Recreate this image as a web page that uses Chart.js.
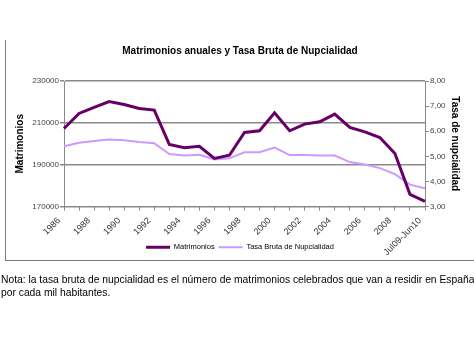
<!DOCTYPE html>
<html>
<head>
<meta charset="utf-8">
<script src="https://cdn.jsdelivr.net/npm/chart.js@4.4.1/dist/chart.umd.min.js"></script>
<style>
  html, body { margin: 0; padding: 0; background: #fff; }
  body { width: 474px; height: 355px; position: relative; overflow: hidden; font-family: "Liberation Sans", Arial, sans-serif; }
  #wrap { position: absolute; left: 0; top: 0; width: 474px; height: 262px; }
  #frame { position: absolute; left: 5px; top: 40px; width: 480px; height: 220px; border-left: 1px solid #7a7a7a; border-bottom: 1px solid #7a7a7a; pointer-events: none; }
  #note { position: absolute; left: 1px; top: 273px; font-size: 10.3px; line-height: 13px; color: #000; white-space: nowrap; }
</style>
</head>
<body>
<div id="wrap"><canvas id="c" width="474" height="262"></canvas></div>
<div id="frame"></div>
<div id="note">Nota: la tasa bruta de nupcialidad es el número de matrimonios celebrados que van a residir en España<br>por cada mil habitantes.</div>
<script>
const categories = ['1986','1987','1988','1989','1990','1991','1992','1993','1994','1995','1996','1997','1998','1999','2000','2001','2002','2003','2004','2005','2006','2007','2008','2009','Jul09-Jun10'];
const matrimonios = [207300, 214500, 217400, 220200, 218800, 216900, 216100, 199700, 198100, 198800, 193000, 194500, 205400, 206200, 214800, 206200, 209400, 210500, 214200, 207800, 205700, 203000, 195300, 175800, 172400];
const tasa = [5.40, 5.54, 5.61, 5.67, 5.64, 5.57, 5.52, 5.09, 5.03, 5.06, 4.87, 4.92, 5.16, 5.16, 5.35, 5.05, 5.05, 5.03, 5.03, 4.77, 4.67, 4.53, 4.29, 3.87, 3.73];
const leftTicks = [170000, 190000, 210000, 230000];
const rightTicks = [3, 4, 5, 6, 7, 8];

const FONT = '"Liberation Sans", Arial, sans-serif';
const GRID = '#8a8a8a';

new Chart(document.getElementById('c'), {
  type: 'line',
  data: {
    labels: categories,
    datasets: [
      { label: 'Matrimonios', data: matrimonios, yAxisID: 'y', borderColor: '#660066', backgroundColor: '#660066', borderWidth: 3, pointRadius: 0, tension: 0 },
      { label: 'Tasa Bruta de Nupcialidad', data: tasa, yAxisID: 'y1', borderColor: '#cc99ff', backgroundColor: '#cc99ff', borderWidth: 2, pointRadius: 0, tension: 0 }
    ]
  },
  options: {
    responsive: false,
    animation: false,
    layout: { padding: { left: 6, right: 0, top: 0, bottom: 1 } },
    plugins: {
      title: {
        display: true,
        text: 'Matrimonios anuales y Tasa Bruta de Nupcialidad',
        color: '#000',
        font: { family: FONT, size: 10, weight: 'bold', lineHeight: 1.2 },
        padding: { top: 45, bottom: 24 }
      },
      legend: {
        display: true,
        position: 'bottom',
        labels: {
          usePointStyle: true,
          pointStyle: 'line',
          pointStyleWidth: 24,
          boxHeight: 8,
          padding: 4,
          color: '#000',
          font: { family: FONT, size: 7.5 }
        }
      },
      tooltip: { enabled: false }
    },
    scales: {
      x: {
        type: 'category',
        offset: false,
        afterFit: (s) => { s.height = 33; s._computeLabelArea = () => undefined; },
        grid: { display: true, drawOnChartArea: false, drawTicks: true, tickLength: 4, color: GRID },
        border: { display: true, color: GRID, width: 1 },
        ticks: {
          autoSkip: false, minRotation: 45, maxRotation: 45, padding: 5, labelOffset: -5,
          color: '#333', font: { family: FONT, size: 9 },
          callback: (v, i) => (i % 2 === 0 ? categories[i] : '')
        }
      },
      y: {
        position: 'left',
        min: 170000, max: 230000,
        afterFit: (s) => { s.width = 58; },
        afterBuildTicks: (s) => { s.ticks = leftTicks.map(v => ({ value: v })); },
        grid: { color: GRID, lineWidth: 1.5, tickLength: 4, drawTicks: true },
        border: { display: true, color: GRID, width: 1 },
        ticks: { padding: 1, color: '#444', font: { family: FONT, size: 8 }, callback: (v) => String(v) },
        title: { display: true, text: 'Matrimonios', color: '#000', font: { family: FONT, size: 10, weight: 'bold', lineHeight: 1.2 }, padding: { top: 8 } }
      },
      y1: {
        position: 'right',
        min: 3, max: 8,
        afterFit: (s) => { s.width = 49; },
        afterBuildTicks: (s) => { s.ticks = rightTicks.map(v => ({ value: v })); },
        grid: { drawOnChartArea: false, color: GRID, tickLength: 4, drawTicks: true },
        border: { display: true, color: GRID, width: 1 },
        ticks: { padding: 1, color: '#444', font: { family: FONT, size: 8 }, callback: (v) => v.toFixed(2).replace('.', ',') },
        title: { display: true, text: 'Tasa de nupcialidad', color: '#000', font: { family: FONT, size: 10, weight: 'bold', lineHeight: 1.2 }, padding: { top: 13 } }
      }
    }
  }
});
</script>
</body>
</html>
